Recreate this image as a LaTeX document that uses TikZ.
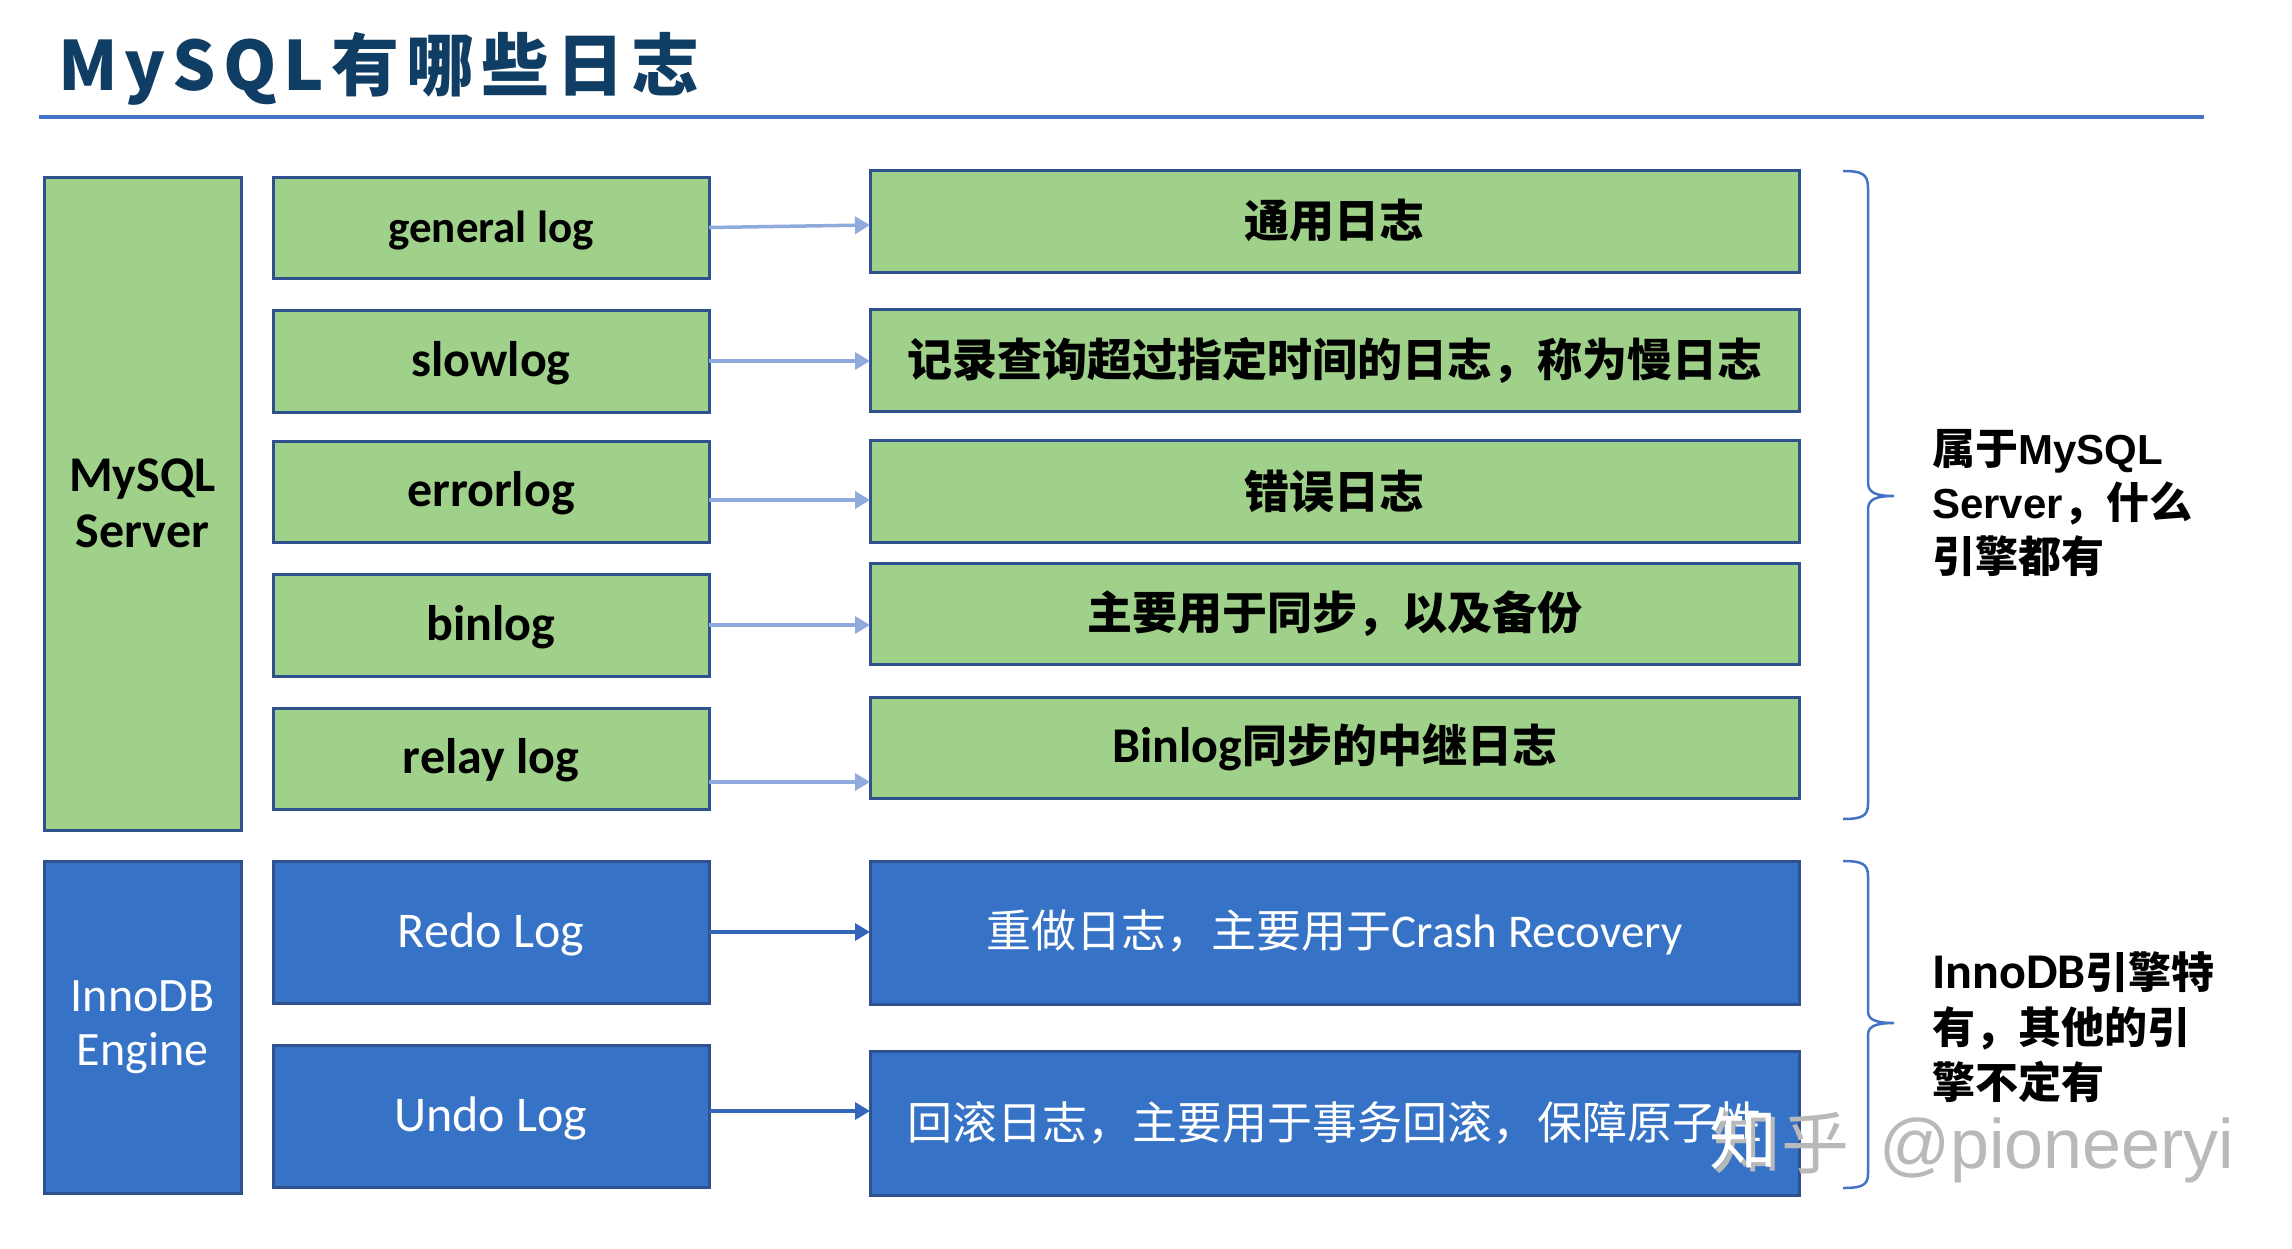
\documentclass[tikz,border=0pt]{standalone}
\usepackage{fontspec}
\setmainfont{Carlito}
\newfontfamily\cjk{Noto Sans CJK SC}
\newfontfamily\lib{Liberation Sans}
\usetikzlibrary{arrows.meta}
\definecolor{gfill}{HTML}{A0D18A}
\definecolor{bfill}{HTML}{3672C6}
\definecolor{edge}{HTML}{2F528F}
\definecolor{lblue}{HTML}{8FAADC}
\definecolor{dblue}{HTML}{3366B8}
\definecolor{accent}{HTML}{4472C4}
\definecolor{navy}{HTML}{0F3D63}
\newcommand\myfs[2]{\fontsize{#1pt}{#2pt}\selectfont}
\newcommand\ls{\hspace{7pt}}
\begin{document}
\begin{tikzpicture}[x=1pt,y=-1pt,
 gbox/.style={draw=edge,line width=3pt,fill=gfill,inner sep=0pt,outer sep=0pt,text=black,align=center},
 bbox/.style={draw=edge,line width=3pt,fill=bfill,inner sep=0pt,outer sep=0pt,text=white,align=center},
 midcol/.style={minimum width=436pt},
 midtext/.style={text height=34pt,text depth=4pt},
 rightcol/.style={minimum width=929pt},
 larr/.style={draw=lblue,line width=3.5pt,-{Triangle[length=15pt,width=17pt]}},
 darr/.style={draw=dblue,line width=3.5pt,-{Triangle[length=15pt,width=17pt]}},
 brace/.style={draw=accent,line width=2.5pt},
 label/.style={anchor=west,align=left,inner sep=0pt,text=black},
]
\useasboundingbox (0,0) rectangle (2292,1248);
\fill[white] (0,0) rectangle (2292,1248);

% title
\node[anchor=base west,text=navy,inner sep=0pt] (title) at (58,90)
  {\cjk\bfseries\myfs{68}{68}M\ls y\ls S\ls Q\ls L\ls 有\ls 哪\ls 些\ls 日\ls 志};
\coordinate (ulA) at (39,117);
\coordinate (ulB) at (2204,117);
\draw[accent,line width=4pt] (ulA) -- (ulB);

% left column
\node[gbox,minimum width=197pt,minimum height=653pt,font={\bfseries\myfs{50}{56}}] (srv) at (142.5,503.5)
  {MySQL\\Server};
\node[bbox,minimum width=197pt,minimum height=332pt,font={\myfs{48}{54}}] (inno) at (142.5,1027)
  {InnoDB\\Engine};

% middle column
\node[gbox,midcol,midtext,minimum height=101pt] (gl) at (491,227.5) {\bfseries\myfs{45}{50}general log};
\node[gbox,midcol,midtext,minimum height=102pt] (sl) at (491,361) {\bfseries\myfs{50}{55}slowlog};
\node[gbox,midcol,midtext,minimum height=101pt] (el) at (491,491.5) {\bfseries\myfs{50}{55}errorlog};
\node[gbox,midcol,midtext,minimum height=102pt] (bl) at (491,625) {\bfseries\myfs{50}{55}binlog};
\node[gbox,midcol,midtext,minimum height=101pt] (rl) at (491,758.5) {\bfseries\myfs{50}{55}relay log};
\node[bbox,midcol,midtext,minimum height=142pt] (redo) at (491,932) {\myfs{50}{55}Redo Log};
\node[bbox,midcol,midtext,minimum height=142pt] (undo) at (491,1116) {\myfs{50}{55}Undo Log};

% right column
\node[gbox,rightcol,minimum height=102pt] (d1) at (1334.5,221) {\cjk\bfseries\myfs{45}{50}通用日志};
\node[gbox,rightcol,minimum height=102pt] (d2) at (1334.5,360) {\cjk\bfseries\myfs{45}{50}记录查询超过指定时间的日志，称为慢日志};
\node[gbox,rightcol,minimum height=102pt] (d3) at (1334.5,491) {\cjk\bfseries\myfs{45}{50}错误日志};
\node[gbox,rightcol,minimum height=101pt] (d4) at (1334.5,613.5) {\cjk\bfseries\myfs{45}{50}主要用于同步，以及备份};
\node[gbox,rightcol,minimum height=101pt] (d5) at (1334.5,747.5) {\bfseries\myfs{50}{55}Binlog{\cjk\myfs{45}{55}同步的中继日志}};
\node[bbox,rightcol,minimum height=143pt] (d6) at (1334.5,932.5) {\myfs{47}{52}{\cjk\myfs{45}{52}重做日志，主要用于}Crash Recovery};
\node[bbox,rightcol,minimum height=144pt] (d7) at (1334.5,1123) {\cjk\myfs{45}{52}回滚日志，主要用于事务回滚，保障原子性};

% arrows
\draw[larr] (gl.east) -- ([yshift=-4pt]d1.west);
\draw[larr] (sl.east) -- (sl.east -| d2.west);
\draw[larr] ([yshift=-8.5pt]el.east) -- ([yshift=-8.5pt]el.east -| d3.west);
\draw[larr] (bl.east) -- (bl.east -| d4.west);
\draw[larr] ([yshift=-23.5pt]rl.east) -- ([yshift=-23.5pt]rl.east -| d5.west);
\draw[darr] (redo.east) -- (redo.east -| d6.west);
\draw[darr] ([yshift=5pt]undo.east) -- ([yshift=5pt]undo.east -| d7.west);

% braces
\draw[brace] (1843,171) .. controls (1862,171) and (1868,174) .. (1868,188) -- (1868,482)
  .. controls (1868,492) and (1874,496) .. (1894,496)
  .. controls (1874,496) and (1868,500) .. (1868,510) -- (1868,804)
  .. controls (1868,816) and (1862,819) .. (1843,819);
\draw[brace] (1843,861) .. controls (1862,861) and (1868,864) .. (1868,876) -- (1868,1011)
  .. controls (1868,1019) and (1874,1023) .. (1894,1023)
  .. controls (1874,1023) and (1868,1027) .. (1868,1035) -- (1868,1174)
  .. controls (1868,1185) and (1862,1188) .. (1843,1188);

% labels
\node[label,font={\myfs{43}{54}}] (lab1) at (1932,503)
  {{\cjk\bfseries 属于}{\lib\bfseries\myfs{42}{54}MySQL}\\{\lib\bfseries\myfs{42}{54}Server}{\cjk\bfseries ，什么}\\{\cjk\bfseries 引擎都有}};
\node[label,font={\myfs{43}{55}}] (lab2) at (1932,1027)
  {{\bfseries\myfs{50}{55}InnoDB}{\cjk\bfseries 引擎特}\\{\cjk\bfseries 有，其他的引}\\{\cjk\bfseries 擎不定有}};

% watermark
\node[anchor=base west,inner sep=0pt,text=gray!55] (wm) at (1713,1168)
  {{\cjk\myfs{68}{68}知乎}\hspace{30pt}{\lib\myfs{70}{70}@pioneeryi}};
\node[anchor=base west,inner sep=0pt,text=white] (wmk) at (1709,1164)
  {\cjk\myfs{68}{68}知};
\end{tikzpicture}
\end{document}
